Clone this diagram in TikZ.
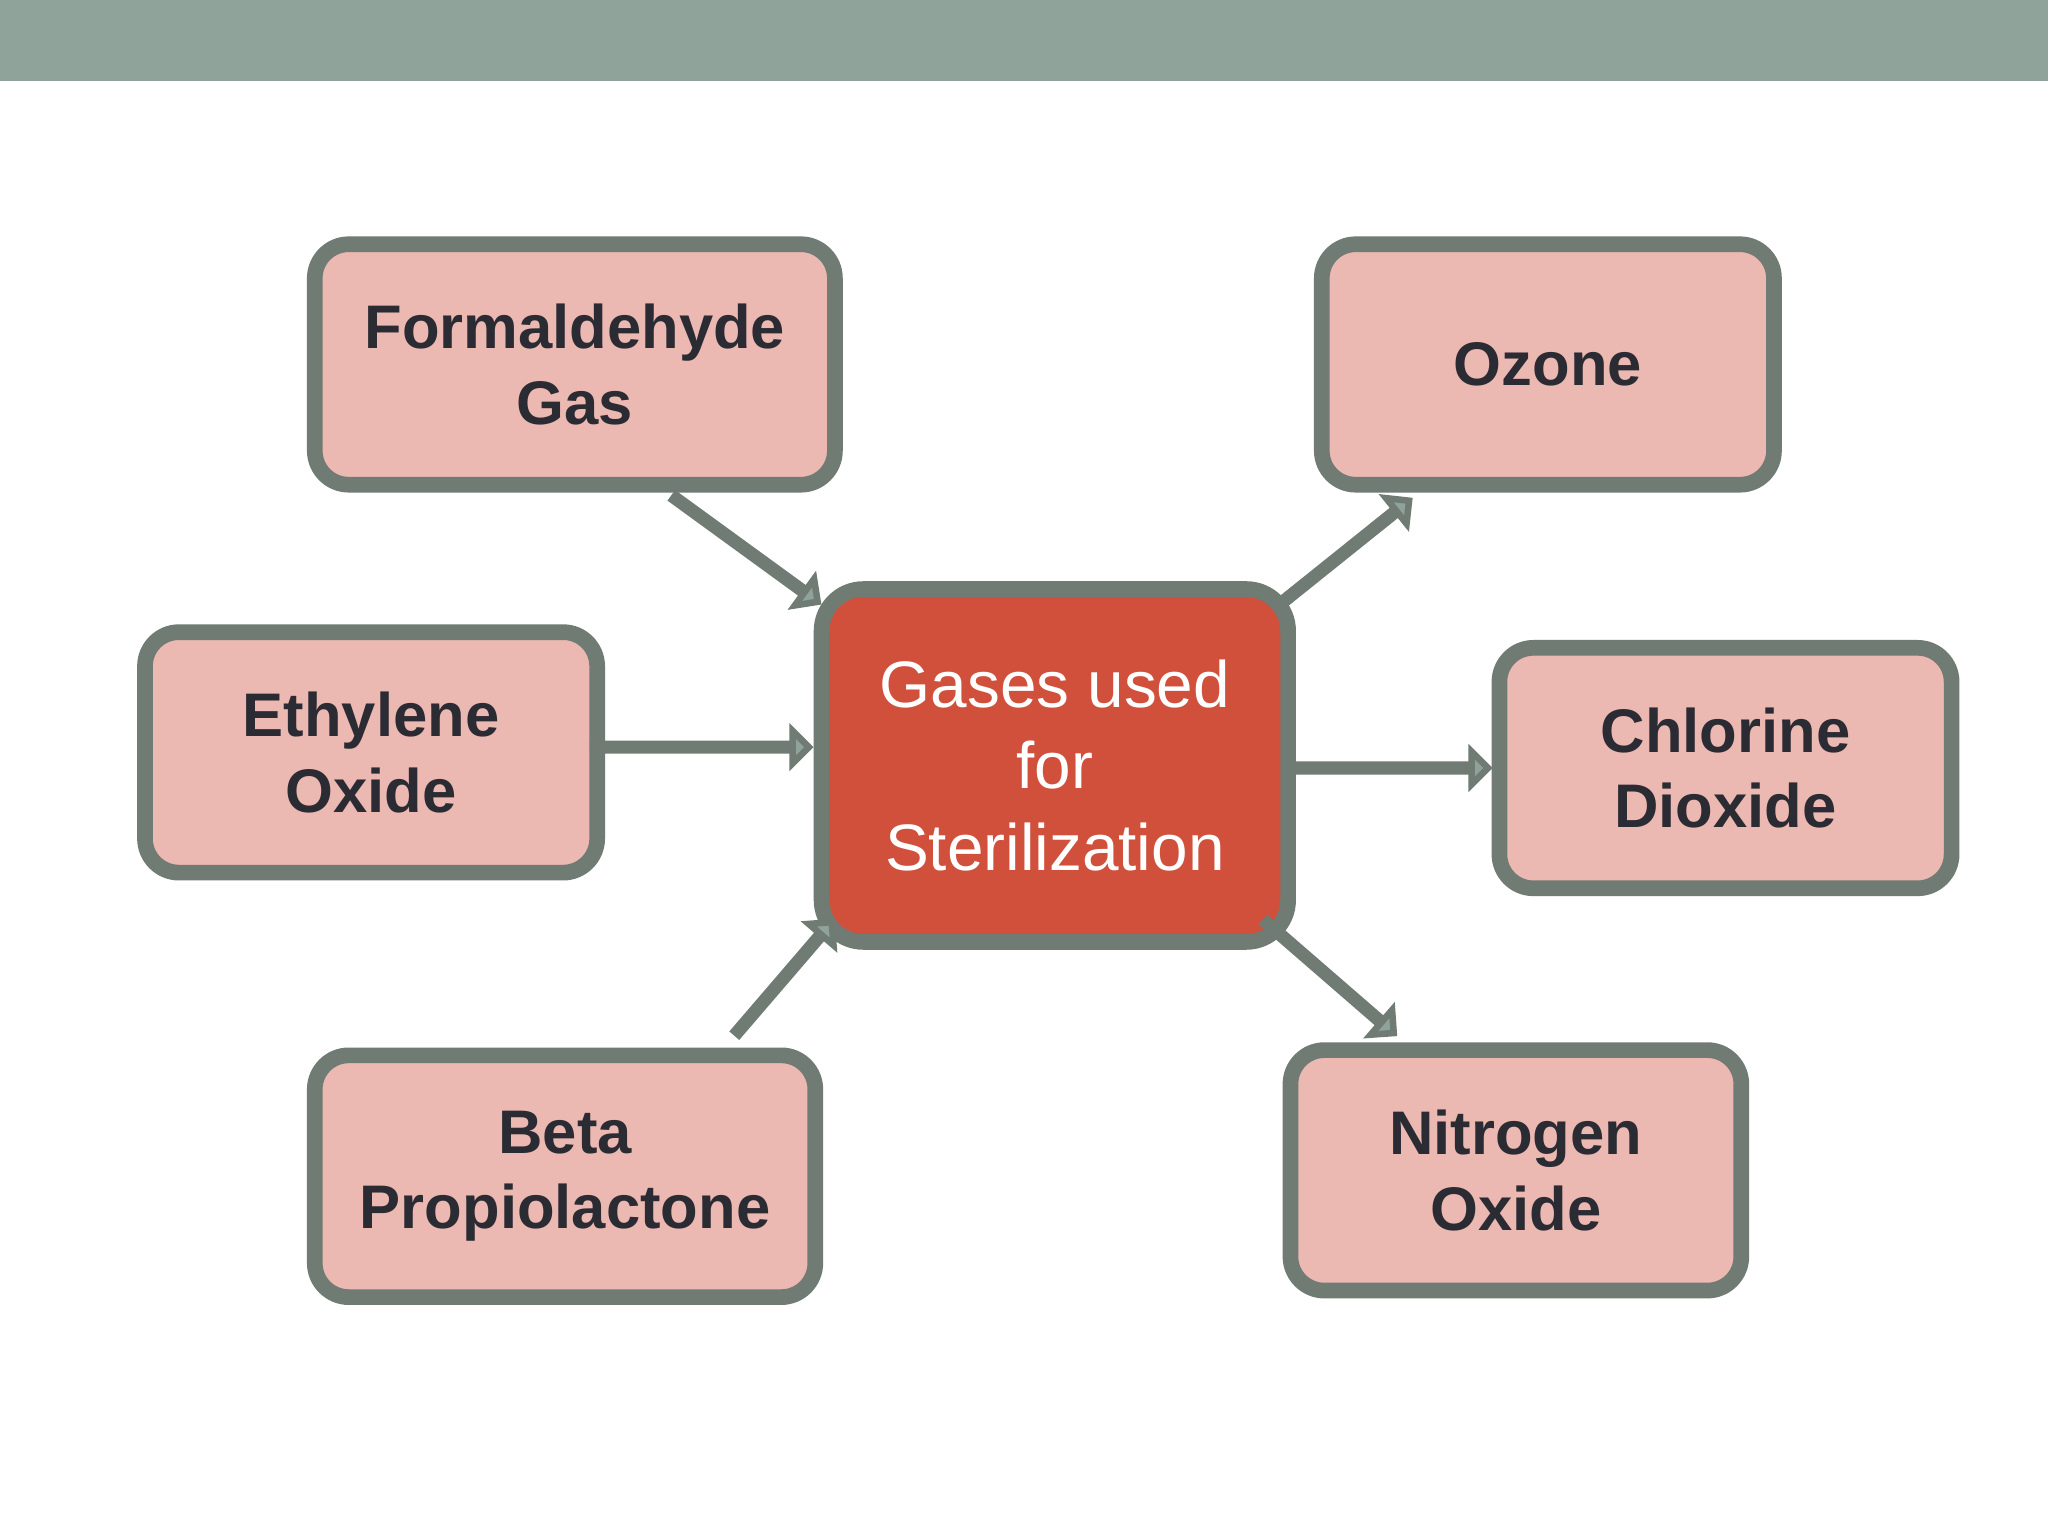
\documentclass[tikz,border=0pt]{standalone}
\usepackage{fontspec}
\setmainfont{Liberation Sans}
\usetikzlibrary{shapes.arrows}
\definecolor{band}{HTML}{8FA39A}
\definecolor{pinkf}{HTML}{ECB8B2}
\definecolor{edge}{HTML}{6F7B73}
\definecolor{redf}{HTML}{D0503C}
\definecolor{txt}{HTML}{2B2B33}
\tikzset{
 box/.style={draw=edge, line width=1.2mm, fill=pinkf, rounded corners=2.6mm, align=center,
   font=\fontsize{13.4pt}{16.5pt}\selectfont\bfseries, text=txt, anchor=north west},
 center/.style={draw=edge, line width=1.2mm, fill=redf, rounded corners=3.2mm, align=center,
   font=\fontsize{14.3pt}{17.8pt}\selectfont, text=white, anchor=north west},
 blk/.style={single arrow, draw=edge, fill=band, line width=0.5mm, sloped, inner sep=0pt,
   single arrow head extend=0.1cm, minimum width=0.16cm, single arrow head indent=0pt}
}
\begin{document}
\begin{tikzpicture}[x=0.01cm,y=-0.01cm]
\fill[white] (0,0) rectangle (1568,1176);
\fill[band] (0,0) rectangle (1568,62);
\useasboundingbox (0,0) rectangle (1568,1176);
\node[box, minimum width=3.98cm, minimum height=1.84cm] (fg) at (235,181) {Formaldehyde\\Gas};
\node[box, minimum width=3.46cm, minimum height=1.84cm] (oz) at (1006,181) {Ozone};
\node[box, minimum width=3.46cm, minimum height=1.84cm] (eo) at (105,478) {Ethylene\\Oxide};
\node[center, minimum width=3.57cm, minimum height=2.70cm] (c) at (623,445) {Gases used\\for\\Sterilization};
\node[box, minimum width=3.46cm, minimum height=1.84cm] (cd) at (1142,490) {Chlorine\\Dioxide};
\node[box, minimum width=3.83cm, minimum height=1.85cm] (bp) at (235,802) {Beta\\Propiolactone};
\node[box, minimum width=3.45cm, minimum height=1.84cm] (no) at (982,798) {Nitrogen\\Oxide};
\coordinate (a1s) at (625,460); \coordinate (a1e) at (515,380);
\coordinate (a2s) at (977,465); \coordinate (a2e) at (1078,384);
\coordinate (a3s) at (618,572); \coordinate (a3e) at (453,572);
\coordinate (a4s) at (986,588); \coordinate (a4e) at (1138,588);
\coordinate (a5s) at (636,707); \coordinate (a5e) at (563,792);
\coordinate (a6s) at (968,705); \coordinate (a6e) at (1066,790);
\foreach \s/\e/\l in {a1s/a1e/1.36, a2s/a2e/1.29, a3s/a3e/1.65, a4s/a4e/1.52, a5s/a5e/1.12, a6s/a6e/1.30}{
  \path (\s) -- (\e) node[blk, midway, minimum height=\l cm, shape border rotate={0}] {};
}
\end{tikzpicture}
\end{document}
